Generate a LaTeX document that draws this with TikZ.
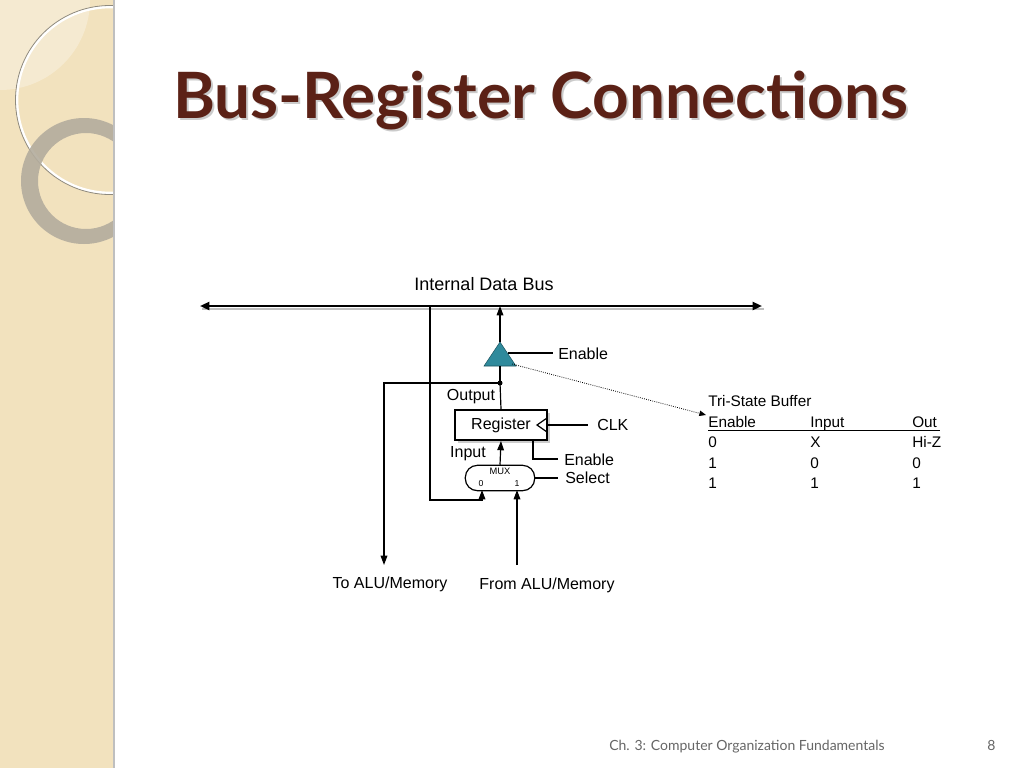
\documentclass[tikz,border=0pt]{standalone}
\usepackage{fontspec}
\setmainfont{Liberation Sans}
\newfontfamily\titlefont{Lato}
\usetikzlibrary{arrows.meta,shadows}
\definecolor{beige}{HTML}{F2E2BE}
\definecolor{ringgray}{HTML}{B3AC9D}
\definecolor{titlebrown}{HTML}{5B2116}
\definecolor{teal}{HTML}{2F8A9C}
\begin{document}
\begin{tikzpicture}[x=0.75pt,y=-0.75pt,
  lbl/.style={font=\fontsize{12}{14}\selectfont,inner sep=0pt},
  wire/.style={line width=0.9pt},
  arr/.style={wire,-{Triangle[length=7pt,width=5pt]}},
  tbl/.style={font=\fontsize{11.5}{13}\selectfont,anchor=base west,inner sep=0pt}]
\useasboundingbox (0,0) rectangle (1024,768);
\fill[white] (0,0) rectangle (1024,768);
% left panel
\fill[beige] (0,0) rectangle (113,768);
\begin{scope}
\clip (0,0) rectangle (113,768);
\fill[white,opacity=0.3] (0,0) circle (90);
\draw[white,line width=2pt] (110,100) circle (93);
\draw[ringgray!80!black,line width=0.6pt] (110,100) circle (94.5);
\fill[ringgray,opacity=0.9,even odd rule] (84,181) circle (63) (86,181) circle (48);
\end{scope}
\fill[gray!50] (113,0) rectangle (115,768);
% title
\node[anchor=base west,inner sep=0pt,text=black!40,opacity=0.5] at (175,120) {\resizebox{551pt}{!}{\titlefont\bfseries Bus-Register Connections}};
\node (title)[anchor=base west,inner sep=0pt,text=titlebrown] at (173,118) {\resizebox{551pt}{!}{\titlefont\bfseries Bus-Register Connections}};
% footer
\node (foot)[anchor=base west,inner sep=0pt,text=gray!80!black,font=\fontsize{10.5}{12}\selectfont\titlefont] at (609,750) {Ch. 3: Computer Organization Fundamentals};
\node (pg)[anchor=base west,inner sep=0pt,text=gray!80!black,font=\fontsize{10.5}{12}\selectfont\titlefont] at (987,750) {8};
% bus
\coordinate (busL) at (200,306);
\coordinate (busR) at (762,306);
\draw[gray!50,line width=2pt] (202,309) -- (764,309);
\draw[line width=1.6pt,{Triangle[length=7pt,width=6pt]}-{Triangle[length=7pt,width=6pt]}] (busL) -- (busR);
\node (busl)[lbl,font=\fontsize{13.5}{16}\selectfont] at (484,284) {Internal Data Bus};
% buffer
\coordinate (bufA) at (500,342);
\coordinate (bufB) at (500,366);
\fill[teal] (484,366) -- (500,342) -- (516,366) -- cycle;
\draw[teal!60!black,line width=0.4pt] (484,366) -- (500,342) -- (516,366) -- cycle;
\coordinate (busT) at (500,306);
\draw[arr] (bufA) -- (busT);
\coordinate (enE) at (508,353);
\coordinate (enW) at (553,353);
\draw[wire] (enE) -- (enW);
\node (en1)[lbl,anchor=west] at (558,354) {Enable};
% dot
\coordinate (dot) at (500,383);
\fill (dot) circle (2.5);
\draw[wire] (dot) -- (bufB);
\coordinate (toA) at (384,565);
\draw[arr] (dot) -| (toA);
\node (toal)[lbl] at (390,584) {To ALU/Memory};
% register
\node (reg)[draw,line width=1.4pt,minimum width=69pt,minimum height=22.5pt,fill=white,drop shadow={shadow xshift=2pt,shadow yshift=-2pt,opacity=0.4},lbl] at (501,425) {Register\hspace{10pt}};
\draw[wire] (reg.north) -- (dot);
\node (outl)[lbl] at (471,397) {Output};
\draw[wire] (547,418) -- (537,425) -- (547,432);
\coordinate (clkE) at (588,425);
\draw[wire] (reg.east) -- (clkE);
\node (clk)[lbl,anchor=west] at (597,425) {CLK};
% mux
\node (mux)[draw,line width=0.9pt,rounded corners=9pt,minimum width=52pt,minimum height=19pt,fill=white,inner sep=0pt] at (500,478) {};
\node (muxl)[inner sep=0pt,font=\fontsize{7}{8}\selectfont] at (500,471) {MUX};
\node (m0)[inner sep=0pt,font=\fontsize{6.5}{8}\selectfont] at (481,484) {0};
\node (m1)[inner sep=0pt,font=\fontsize{6.5}{8}\selectfont] at (517,484) {1};
\draw[arr] (mux.north) -- (reg.south);
\node (inl)[lbl] at (468,454) {Input};
% register enable
\coordinate (renE) at (558,459);
\draw[wire] (533,440) |- (renE);
\node (en2)[lbl,anchor=west] at (564,460) {Enable};
% select
\coordinate (selE) at (558,478);
\draw[wire] (mux.east) -- (selE);
\node (sel)[lbl,anchor=west] at (565,478) {Select};
% feedback from bus to input 0
\coordinate (fb1) at (430,306);
\coordinate (fb2) at (430,500);
\coordinate (in0) at (482,490);
\draw[wire] (fb1) -- (fb2) -| (482,497);
\draw[arr] (482,501) -- (in0);
% from ALU
\coordinate (fromA) at (517,565);
\coordinate (in1) at (517,490);
\draw[arr] (fromA) -- (in1);
\node (froml)[lbl] at (547,585) {From ALU/Memory};
% dotted pointer
\coordinate (tbl) at (706,415);
\draw[densely dotted,line width=0.6pt,-{Triangle[length=5pt,width=4pt]}] (512,364) -- (tbl);
% table
\node (t0)[tbl] at (708,406) {Tri-State Buffer};
\node (h1)[tbl] at (708,427) {Enable};
\node (h2)[tbl] at (810,427) {Input};
\node (h3)[tbl] at (912,427) {Out};
\draw[line width=0.6pt] (708,430) -- (940,430);
\node[tbl] at (708,447) {0}; \node[tbl] at (810,447) {X}; \node[tbl] at (912,447) {Hi-Z};
\node[tbl] at (708,468) {1}; \node[tbl] at (810,468) {0}; \node[tbl] at (912,468) {0};
\node[tbl] at (708,488) {1}; \node[tbl] at (810,488) {1}; \node[tbl] at (912,488) {1};
\end{tikzpicture}
\end{document}
